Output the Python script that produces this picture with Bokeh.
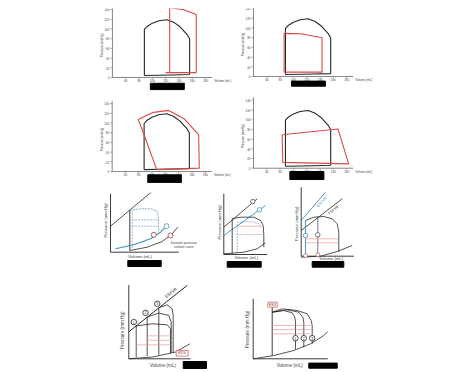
import math
from bokeh.plotting import figure
from bokeh.layouts import row, column
from bokeh.models import Spacer
from bokeh.core.properties import value
from bokeh.embed import file_html
from bokeh.resources import INLINE

# ---------------- data: top four PV-loop panels (volume mL, pressure mmHg) ----------------
x_ticks = [60, 80, 100, 120, 140, 160, 180]
y_ticks = [0, 20, 40, 60, 80, 100, 120, 140]

ctrl_vol = [88, 88, 92, 100, 110, 122, 132, 142, 152, 156, 156, 130, 110, 88]
ctrl_pres = [4, 99, 105, 112, 117, 119, 114, 104, 89, 80, 6, 5.2, 4.6, 4]

p1_red_vol = [120, 166, 166, 147, 126, 126]
p1_red_pres = [10, 10, 130, 139.5, 144, 10]
p2_red_vol = [86, 86, 111, 143, 143, 86]
p2_red_pres = [9, 89, 88, 80, 9, 9]
p3_red_vol = [107, 82, 79, 102, 125, 148, 170, 171, 107]
p3_red_pres = [4, 98, 107, 122, 126, 109, 76, 7, 4]
p4_red_vol = [83, 167, 183, 84, 83]
p4_red_pres = [69, 81, 9, 12, 69]

# ---------------- data: schematic panels (arbitrary units) ----------------
p5_esp_vol = [0, 40]
p5_esp_pres = [26, 59.4]
p5_loop_vol = [19.3, 30, 40, 46, 47.7, 48.3]
p5_loop_pres = [42, 43.4, 43.4, 41.4, 36.7, 20]
p5_blue_vol = [5, 23.3, 40, 50, 56]
p5_blue_pres = [3.4, 7.4, 13.4, 20, 26]
p5_dia_vol = [19.3, 36.7, 51.7, 61.7, 67.3]
p5_dia_pres = [1.7, 5, 10.7, 18.4, 25]

p6_esp_vol = [0, 33.4]
p6_esp_pres = [27.3, 55.7]
p6_blue_vol = [0, 41.7]
p6_blue_pres = [19, 49]
p6_loop_vol = [8.4, 8.4, 16.7, 30, 36.7, 39.4, 40, 40]
p6_loop_pres = [0.7, 35.7, 37.3, 37.3, 34, 29, 20, 7.3]
p6_inner_vol = [13.4, 13.4, 25, 35, 38]
p6_inner_pres = [1.5, 32, 33, 31, 27]
p6_dia_vol = [0, 20, 33.4, 41.7]
p6_dia_pres = [0.7, 2.3, 5.7, 11.7]

p7_espb_vol = [0, 24.3]
p7_espb_pres = [35.7, 64]
p7_espk_vol = [0, 41]
p7_espk_pres = [25.7, 57.4]
p7_loop_vol = [4.3, 12.6, 22.6, 31, 36, 37.6, 37.6]
p7_loop_pres = [35.7, 39, 39.7, 37.4, 32.4, 24, 4]
p7_dia_vol = [0, 19.3, 36, 51]
p7_dia_pres = [-1, 0, 4.7, 10.7]

p8_esp_vol = [0, 58.4]
p8_esp_pres = [27, 73.4]
p8_l1_vol = [7.4, 7.4, 23.4, 38.4, 41.7, 41.7]
p8_l1_pres = [1.5, 32.9, 35, 34, 30, 5.7]
p8_l2_vol = [18.4, 18.4, 30, 40, 42.4, 42.4]
p8_l2_pres = [2.5, 41.7, 45.7, 43.4, 36.7, 6]
p8_l3_vol = [30, 30, 38.4, 43.4, 44.4, 44.4]
p8_l3_pres = [4, 51, 54, 50, 43.4, 6.7]
p8_dia_vol = [0, 23.4, 46.7, 58.4, 61]
p8_dia_pres = [0, 1.7, 6.7, 13.4, 15]
p8_num_vol = [5, 16.7, 28.4]
p8_num_pres = [36.7, 46, 55]

p9_l1_vol = [19, 30.6, 39, 41.6, 42.3, 42.3]
p9_l1_pres = [46.6, 48.3, 46, 41.6, 36.6, 9.3]
p9_l2_vol = [19, 34, 45.6, 49.6, 50.6, 50.6]
p9_l2_pres = [46.6, 49, 46.6, 41.6, 36.6, 11.6]
p9_l3_vol = [19, 29, 44, 54, 58, 59, 59]
p9_l3_pres = [46.6, 50, 48.3, 45, 38.3, 33.3, 15]
p9_dia_vol = [0, 20.6, 40.6, 57.3, 70.6, 74.6]
p9_dia_pres = [0, 3.3, 8.3, 15, 23.3, 27.3]
p9_num_vol = [42.3, 50.6, 59]
p9_num_pres = [20.6, 20.6, 20.6]
numbers = ["1", "2", "3"]

FONT = value("Liberation Sans")
BLK = "#262626"
BLUE = "#3d8fc6"
RED = "#d94848"
PINK = "#e78a8a"
MAROON = "#9c3b4c"
DASH = "#7d9bb3"
AXG = "#6a6a6a"
TXT = "#444444"


def bare(w, h, xr, yr):
    p = figure(width=w, height=h, x_range=xr, y_range=yr, title=None,
               output_backend="svg", toolbar_location=None,
               x_axis_location=None, y_axis_location=None, min_border=0,
               outline_line_color=None, background_fill_color="white",
               border_fill_color="white")
    p.grid.visible = False
    return p


def txt(p, x, y, s, size, color=TXT, align="center", angle=0.0, baseline="middle", style="normal"):
    p.text(x=[x], y=[y], text=[s], text_font=FONT, text_font_size=size,
           text_color=color, text_align=align, text_baseline=baseline,
           angle=angle, text_font_style=style)


def top_panel(w, h, xr, yr, red_v, red_p, bar):
    p = bare(w, h, xr, yr)
    n, m = len(x_ticks), len(y_ticks)
    p.segment(x0=[40, 40], y0=[0, 0], x1=[190, 40], y1=[0, 146], line_color=AXG, line_width=0.8)
    p.segment(x0=x_ticks, y0=[0] * n, x1=x_ticks, y1=[-3] * n, line_color=AXG, line_width=0.6)
    p.segment(x0=[37] * m, y0=y_ticks, x1=[40] * m, y1=y_ticks, line_color=AXG, line_width=0.6)
    p.text(x=x_ticks, y=[-6.5] * n, text=[str(t) for t in x_ticks], text_font=FONT,
           text_font_size="3px", text_color=TXT, text_align="center", text_baseline="middle")
    p.text(x=[35.5] * m, y=y_ticks, text=[str(t) for t in y_ticks], text_font=FONT,
           text_font_size="3px", text_color=TXT, text_align="right", text_baseline="middle")
    txt(p, 24, 66, "Pressure (mmHg)", "3px", angle=math.pi / 2)
    txt(p, 193, -6.5, "Volume (mL)", "3px", align="left")
    p.line(ctrl_vol, ctrl_pres, line_color=BLK, line_width=1.1)
    p.line(red_v, red_p, line_color=RED, line_width=1.1)
    p.quad(left=[bar[0]], right=[bar[1]], bottom=[bar[2]], top=[bar[3]],
           fill_color="black", line_color="black")
    return p


p1 = top_panel(146, 84, (4, 223.5), (-31, 142.2), p1_red_vol, p1_red_pres, (97, 148, -25, -12))
p2 = top_panel(146, 84, (11.4, 230.9), (-33, 140.2), p2_red_vol, p2_red_pres, (97, 148, -20, -9.5))
p3 = top_panel(146, 91, (4.4, 223.9), (-24.7, 162.9), p3_red_vol, p3_red_pres, (93.5, 144, -23.3, -6.8))
p4 = top_panel(146, 91, (11.4, 230.9), (-31.5, 156.1), p4_red_vol, p4_red_pres, (94.6, 145.8, -23.3, -6.8))


def axes_l(p, ytop, xend):
    p.line([0, 0, xend], [ytop, 0, 0], line_color=BLK, line_width=0.9)


def circ(p, xs, ys, color, size=5):
    p.scatter(xs, ys, marker="circle", size=size, fill_color="white", line_color=color, line_width=0.8)


# ---- panel 5 ----
p5 = bare(126, 87, (-22, 104), (-18.3, 68.7))
axes_l(p5, 58.4, 68.3)
p5.line(p5_esp_vol, p5_esp_pres, line_color=BLK, line_width=0.8)
p5.line(p5_loop_vol, p5_loop_pres, line_color=DASH, line_width=0.9, line_dash="2 1")
p5.segment(x0=[21.7, 21.7], y0=[32.4, 26], x1=[47.5, 47.5], y1=[32.4, 26], line_color=DASH, line_width=0.7, line_dash="2 1")
p5.segment(x0=[21.7], y0=[4], x1=[21.7], y1=[41.5], line_color=DASH, line_width=0.7, line_dash="2 1")
p5.segment(x0=[19.3], y0=[1.7], x1=[19.3], y1=[42], line_color=BLK, line_width=0.9)
p5.line(p5_blue_vol, p5_blue_pres, line_color=BLUE, line_width=1.1)
p5.line(p5_dia_vol, p5_dia_pres, line_color=BLK, line_width=0.8)
circ(p5, [56], [26], BLUE)
circ(p5, [43.3, 60], [17.4, 16.7], MAROON)
txt(p5, -5, 31.7, "Pressure (mm Hg)", "4.2px", angle=math.pi / 2)
txt(p5, 29.7, -4.3, "Volume (mL)", "4.2px")
txt(p5, 73.3, 9.6, "Diastolic pressure", "3.3px")
txt(p5, 73.3, 5.6, "volume curve", "3.3px")
p5.quad(left=[17.3], right=[50.7], bottom=[-14.3], top=[-8.3], fill_color="black", line_color="black")

# ---- panel 6 ----
p6 = bare(76, 87, (-9.3, 66.7), (-16, 71))
axes_l(p6, 60.7, 43.4)
p6.line(p6_esp_vol, p6_esp_pres, line_color=BLK, line_width=0.8)
p6.line(p6_blue_vol, p6_blue_pres, line_color=BLUE, line_width=0.9)
p6.line(p6_loop_vol, p6_loop_pres, line_color=BLK, line_width=0.8)
p6.line(p6_inner_vol, p6_inner_pres, line_color=DASH, line_width=0.7, line_dash="2 1")
p6.segment(x0=[13.4], y0=[28.3], x1=[38.5], y1=[28.3], line_color=PINK, line_width=0.6)
p6.segment(x0=[13.4], y0=[20], x1=[39], y1=[20], line_color=DASH, line_width=0.6, line_dash="2 1")
p6.line(p6_dia_vol, p6_dia_pres, line_color=BLK, line_width=0.8)
circ(p6, [29], [53], "#555555", 4.5)
circ(p6, [35.7], [44.7], BLUE, 4.5)
txt(p6, -4.5, 32, "Pressure (mm Hg)", "4.2px", angle=math.pi / 2)
txt(p6, 22.5, -3, "Volume (mL)", "4.2px")
p6.quad(left=[3.4], right=[37.4], bottom=[-12.7], top=[-7], fill_color="black", line_color="black")

# ---- panel 7 ----
p7 = bare(90, 87, (-10.7, 79.3), (-14.3, 72.7))
axes_l(p7, 69, 52.6)
p7.line(p7_espb_vol, p7_espb_pres, line_color=BLUE, line_width=0.9)
p7.line(p7_espk_vol, p7_espk_pres, line_color=BLK, line_width=0.8)
txt(p7, 20.8, 54.3, "ESPVR", "3.6px", color=BLUE, angle=math.radians(49))
txt(p7, 32.2, 46.0, "ESPVR", "3.6px", color=BLK, angle=math.radians(37.7))
p7.line(p7_loop_vol, p7_loop_pres, line_color=BLK, line_width=0.8)
p7.segment(x0=[4.3], y0=[0.7], x1=[4.3], y1=[35.7], line_color=BLUE, line_width=0.9)
p7.segment(x0=[16.6], y0=[1.4], x1=[16.6], y1=[39.3], line_color="#555555", line_width=0.8)
p7.segment(x0=[4.3, 4.3], y0=[17.4, 13.4], x1=[37, 37], y1=[17.4, 13.4], line_color=PINK, line_width=0.6)
p7.line(p7_dia_vol, p7_dia_pres, line_color=BLK, line_width=0.8)
circ(p7, [4.3], [20.7], BLUE, 4.5)
circ(p7, [16.6], [21.4], "#555555", 4.5)
circ(p7, [4.3, 16.6], [0.7, 1.4], "#d0607a", 4)
txt(p7, -5, 32.4, "Pressure (mm Hg)", "4.2px", angle=math.pi / 2)
txt(p7, 30, -2.2, "Volume (mL)", "4.2px")
p7.quad(left=[11], right=[42.6], bottom=[-11], top=[-5.3], fill_color="black", line_color="black")

# ---- panel 8 ----
p8 = bare(152, 100, (-40.3, 111.7), (-11.7, 88.3))
axes_l(p8, 73.7, 61.7)
p8.line(p8_esp_vol, p8_esp_pres, line_color=BLK, line_width=1.0)
txt(p8, 42.2, 66.2, "ESPVR", "4.2px", color=BLK, angle=math.radians(38.5))
for lv, lp in ((p8_l1_vol, p8_l1_pres), (p8_l2_vol, p8_l2_pres), (p8_l3_vol, p8_l3_pres)):
    p8.line(lv, lp, line_color=BLK, line_width=0.8)
p8.segment(x0=[18.4, 18.4, 7.4], y0=[23, 18.5, 14], x1=[42.4, 42.4, 42.4], y1=[23, 18.5, 14],
           line_color=PINK, line_width=0.6)
p8.line(p8_dia_vol, p8_dia_pres, line_color=BLK, line_width=0.8)
circ(p8, p8_num_vol, p8_num_pres, BLK, 5.5)
p8.text(x=p8_num_vol, y=p8_num_pres, text=numbers, text_font=FONT, text_font_size="3.5px",
        text_color=BLK, text_align="center", text_baseline="middle")
p8.quad(left=[47.4], right=[59.4], bottom=[2.7], top=[8.4], fill_color="white", line_color=RED, line_width=0.7)
txt(p8, 53.4, 5.5, "EDV", "3.8px", color="#8a2a2a")
txt(p8, -6.6, 28.5, "Pressure (mm Hg)", "4.6px", angle=math.pi / 2)
txt(p8, 33.9, -6.5, "Volume (mL)", "4.6px")
p8.quad(left=[54.4], right=[77.7], bottom=[-9.7], top=[-2.7], fill_color="black", line_color="black")

# ---- panel 9 ----
p9 = bare(140, 100, (-12.7, 127.3), (-11.7, 88.3))
axes_l(p9, 60, 74.6)
p9.segment(x0=[19], y0=[3.3], x1=[19], y1=[51.6], line_color=BLK, line_width=0.9)
for lv, lp in ((p9_l1_vol, p9_l1_pres), (p9_l2_vol, p9_l2_pres), (p9_l3_vol, p9_l3_pres)):
    p9.line(lv, lp, line_color=BLK, line_width=0.8)
p9.segment(x0=[19, 19, 19], y0=[33.3, 29.3, 25], x1=[57.3, 57.3, 57.3], y1=[33.3, 29.3, 25],
           line_color=PINK, line_width=0.6)
p9.line(p9_dia_vol, p9_dia_pres, line_color=BLK, line_width=0.8)
circ(p9, p9_num_vol, p9_num_pres, BLK, 5.5)
p9.text(x=p9_num_vol, y=p9_num_pres, text=numbers, text_font=FONT, text_font_size="3.5px",
        text_color=BLK, text_align="center", text_baseline="middle")
p9.quad(left=[14.6], right=[24], bottom=[51.6], top=[56.6], fill_color="white", line_color=RED, line_width=0.7)
txt(p9, 19.3, 54.1, "ESV", "3.6px", color="#8a2a2a")
txt(p9, -5.4, 29.3, "Pressure (mm Hg)", "4.6px", angle=math.pi / 2)
txt(p9, 36.5, -6.5, "Volume (mL)", "4.6px")
p9.quad(left=[55.6], right=[84], bottom=[-9.4], top=[-4.3], fill_color="black", line_color="black")

layout = column(
    Spacer(width=10, height=8),
    row(Spacer(width=88, height=84), p1, p2),
    row(Spacer(width=88, height=91), p3, p4),
    row(Spacer(width=88, height=87), p5, p6, p7),
    row(Spacer(width=88, height=100), p8, p9),
)

open("out.html", "w").write(file_html(layout, INLINE))
